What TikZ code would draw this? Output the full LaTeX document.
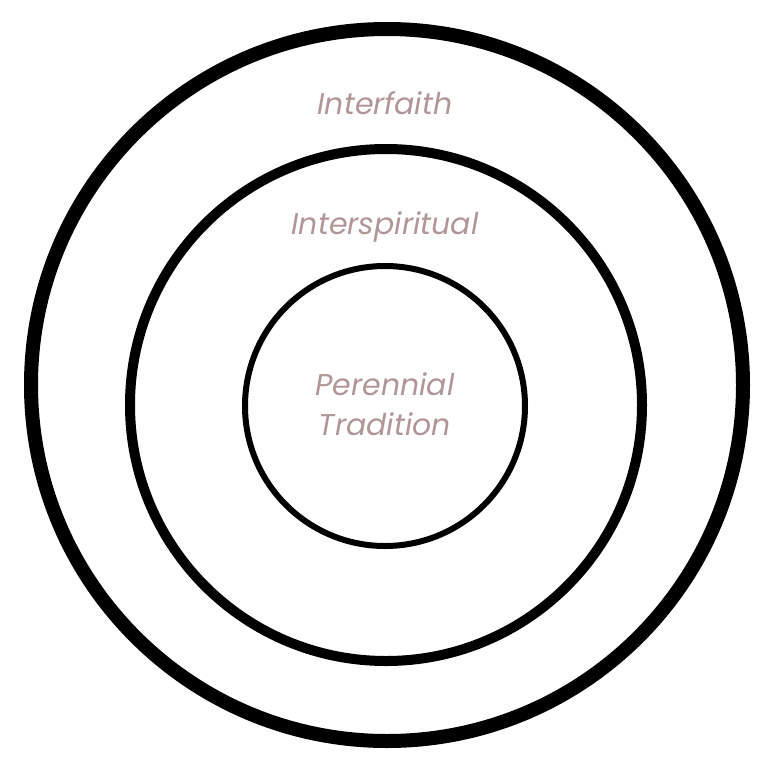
\documentclass[tikz,border=0pt]{standalone}
\usepackage{fontspec}
\setmainfont{Poppins}
\usetikzlibrary{positioning}
\definecolor{labelgrey}{RGB}{178,150,150}
\tikzset{
  ring/.style={draw=black, fill=none},
  ringlabel/.style={text=labelgrey, font=\fontsize{30}{40}\selectfont\itshape, align=center, inner sep=0pt}
}
\begin{document}
\begin{tikzpicture}[x=1pt, y=-1pt]
\useasboundingbox (0,0) rectangle (768,769);
\node[ring, circle, line width=14pt, minimum size=712pt] (outer) at (387,385) {};
\node[ring, circle, line width=10pt, minimum size=512pt] (middle) at (386,405) {};
\node[ring, circle, line width=6pt, minimum size=280pt] (inner) at (385,406) {};
\node[ringlabel] (faith) at (385,103) {Interfaith};
\node[ringlabel] (spirit) at (385,227) {Interspiritual};
\node[ringlabel, text width=200pt] (perennial) at (385,404) {Perennial\\Tradition};
\end{tikzpicture}
\end{document}
